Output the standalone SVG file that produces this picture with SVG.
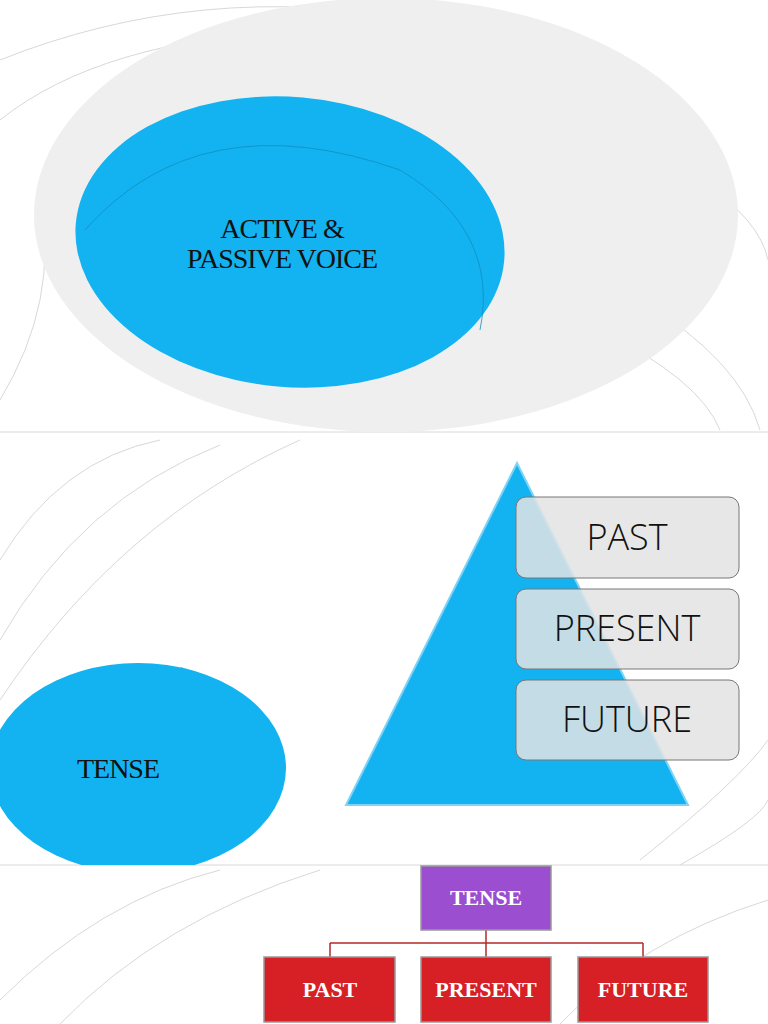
<svg xmlns="http://www.w3.org/2000/svg" width="768" height="1024" viewBox="0 0 768 1024">
<style>
.deco{fill:none;stroke:#d8d8d8;stroke-width:1}
.lbl{font-family:"Liberation Serif",serif;font-size:28px;fill:#111;text-anchor:middle;letter-spacing:-1px}
.box{fill:#e3e3e3;fill-opacity:0.85;stroke:#777;stroke-width:1}
.bt{font-family:"Open Sans",sans-serif;font-weight:300;font-size:36px;fill:#111;text-anchor:middle}
.red{fill:#d71f26;stroke:#999;stroke-width:1.5}
.wt{font-family:"Liberation Serif",serif;font-weight:bold;font-size:22px;fill:#fff;text-anchor:middle}
.con{fill:none;stroke:#b52a2a;stroke-width:1.5}
</style>
<rect width="768" height="1024" fill="#fff"/>
<g class="deco">
<path d="M0 60 Q200 -20 420 20"/><path d="M0 120 Q100 40 300 30"/><path d="M0 400 Q60 300 40 200"/>
<path d="M600 330 Q700 380 720 430"/><path d="M640 300 Q740 360 760 430"/><path d="M700 180 Q760 220 768 260"/>
<path d="M0 560 Q60 460 160 440"/><path d="M0 640 Q80 500 220 445"/><path d="M0 700 Q120 520 300 440"/>
<path d="M640 860 Q740 780 768 740"/><path d="M680 865 Q760 820 768 800"/>
<path d="M0 1000 Q100 900 220 870"/><path d="M60 1024 Q160 920 320 870"/><path d="M560 1024 Q640 940 768 900"/>
<line x1="0" y1="432" x2="768" y2="432"/><line x1="0" y1="865" x2="768" y2="865"/>
</g>
<g id="bg-ellipse"><ellipse cx="386" cy="215" rx="352" ry="217" fill="#efefef"/></g>
<g id="voice">
<ellipse cx="290" cy="242" rx="215" ry="145" transform="rotate(5 290 242)" fill="#12b3f0"/>
<path d="M85 230 Q200 100 400 170 Q500 230 480 330" fill="none" stroke="#0e8fc0" stroke-width="0.8"/>
<text class="lbl" x="282" y="238">ACTIVE &amp;</text>
<text class="lbl" x="282" y="268">PASSIVE VOICE</text>
</g>
<g id="triangle">
<polygon points="517,463 346,805 688,805" fill="#12b3f0" stroke="#7fd3f5" stroke-width="2"/>
</g>
<g id="past"><rect class="box" x="516" y="497" width="223" height="81" rx="10"/><text class="bt" x="627" y="550">PAST</text></g>
<g id="present"><rect class="box" x="516" y="589" width="223" height="80" rx="10"/><text class="bt" x="627" y="641">PRESENT</text></g>
<g id="future"><rect class="box" x="516" y="680" width="223" height="80" rx="10"/><text class="bt" x="627" y="732">FUTURE</text></g>
<g id="tense-blob">
<clipPath id="c1"><rect x="0" y="600" width="400" height="265"/></clipPath>
<g clip-path="url(#c1)">
<ellipse cx="138" cy="768" rx="148" ry="105" fill="#12b3f0"/>
<polygon points="165,680 182,667 190,685" fill="#12b3f0"/>
</g>
<text class="lbl" x="118" y="778">TENSE</text>
</g>
<g id="connectors">
<path class="con" d="M486 930 V943 M330 943 H643 M330 943 V957 M486 943 V957 M643 943 V957"/>
</g>
<g id="tense-top"><rect x="421" y="866" width="130" height="64" fill="#9b4fd0" stroke="#999" stroke-width="1.5"/><text class="wt" x="486" y="905">TENSE</text></g>
<g id="o-past"><rect class="red" x="264" y="957" width="131" height="65"/><text class="wt" x="330" y="997">PAST</text></g>
<g id="o-present"><rect class="red" x="421" y="957" width="130" height="65"/><text class="wt" x="486" y="997">PRESENT</text></g>
<g id="o-future"><rect class="red" x="578" y="957" width="130" height="65"/><text class="wt" x="643" y="997">FUTURE</text></g>
</svg>
